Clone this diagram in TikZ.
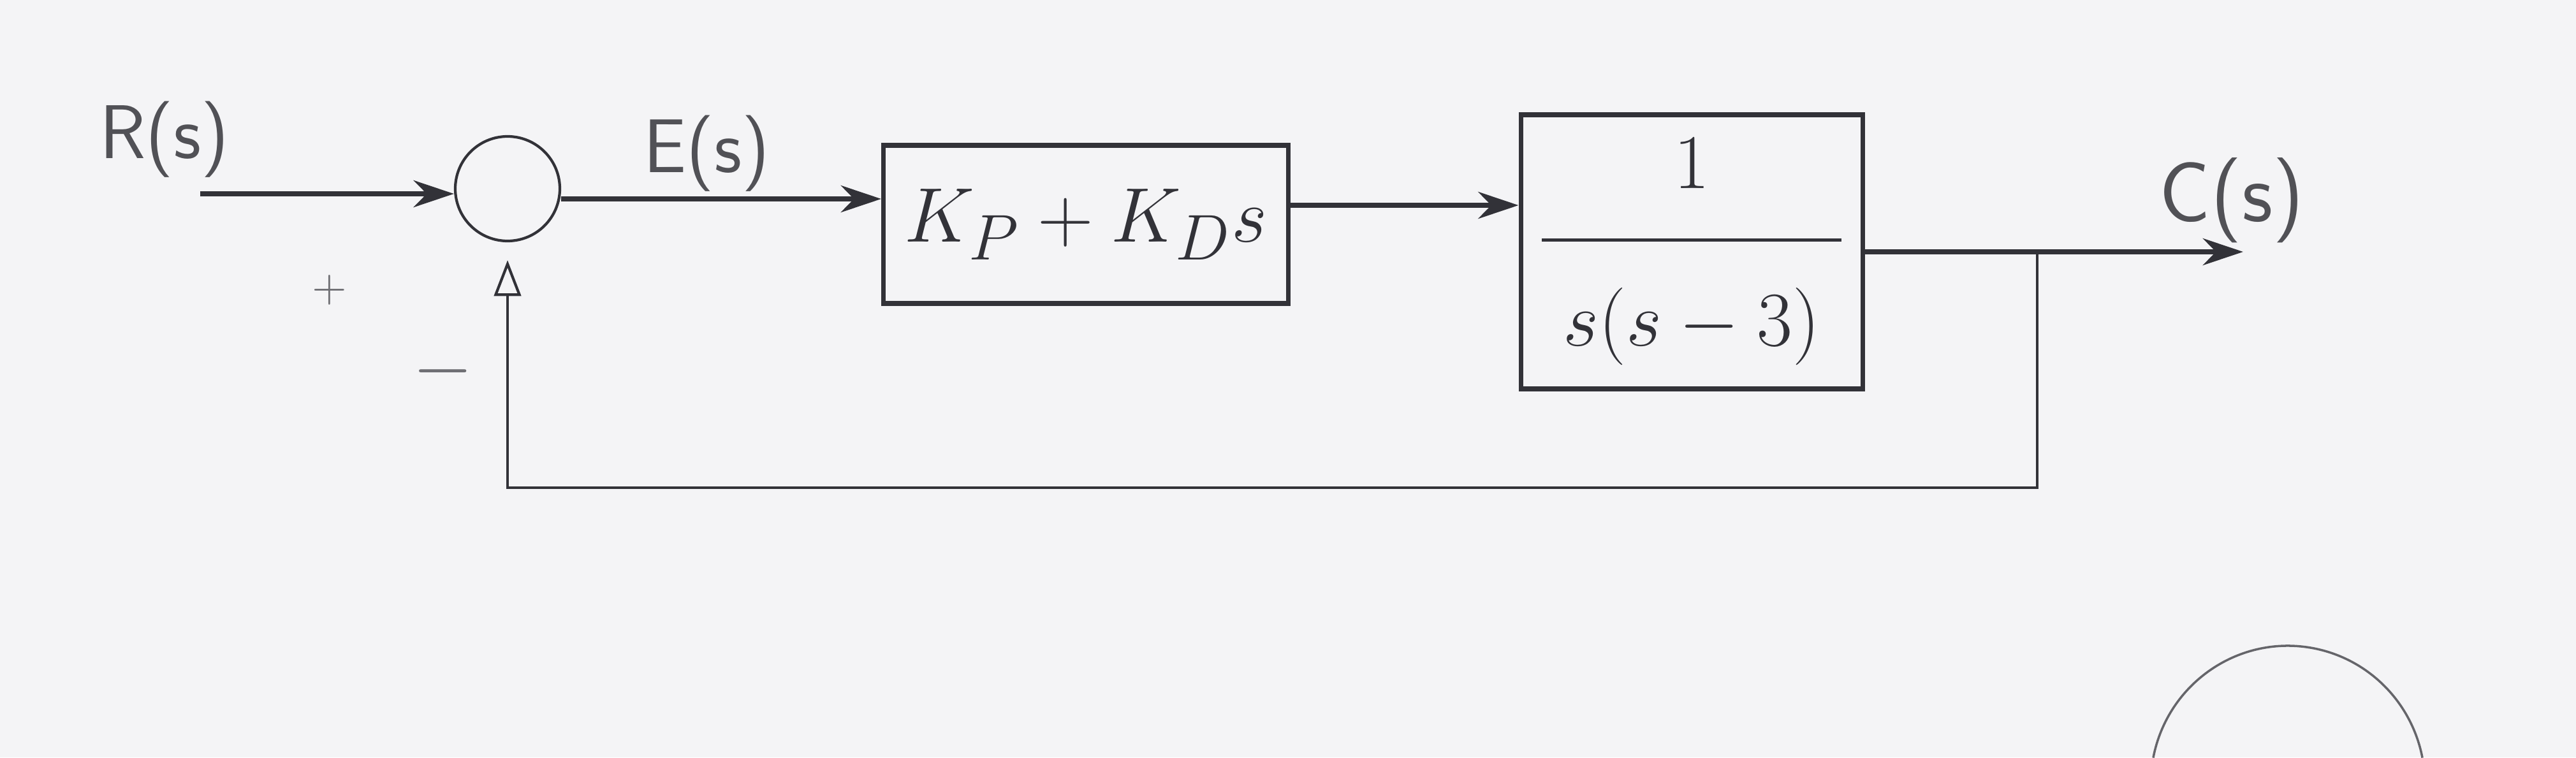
\documentclass[tikz,border=0pt]{standalone}
\usepackage{amsmath,amssymb}
\usepackage{tikz}
\usetikzlibrary{calc}
\usetikzlibrary{arrows.meta}
\definecolor{paper}{RGB}{244,244,246}
\definecolor{ink}{RGB}{50,50,56}
\newcommand{\sigfont}[1]{\sffamily\fontsize{#1}{#1}\selectfont}

\begin{document}
\begin{tikzpicture}[line width=1pt, draw=ink, text=ink,
        >={Stealth[length=9pt,width=6pt]},
        block/.style={draw, rectangle, inner sep=0pt},
        siglabel/.style={text=ink!85, font=\sigfont{17}}]
        \fill[paper] (0,0) rectangle (20.2,5.94);
        \useasboundingbox (0,0) rectangle (20.2,5.94);
    %blocks
        \node[draw, circle, minimum size=0.82cm, line width=0.6pt] (sum) at (3.98,4.46) {};
        \node[block, minimum width=3.175cm, minimum height=1.24cm, font=\fontsize{19}{22}\selectfont] (pd) at (8.515,4.18) {$K_P + K_D s$};
        \node[block, minimum width=2.68cm, minimum height=2.15cm, font=\fontsize{18}{22}\selectfont] (plant) at (13.265,3.965)
            {$\dfrac{1\rule[-9pt]{0pt}{0pt}}{\rule{0pt}{21pt}\;s(s-3)\;}$};
        \coordinate (rin) at (1.57,4.42);
        \coordinate (cout) at (17.59,3.965);
        \coordinate (tap) at (15.975,3.965);
        \coordinate (fb) at (15.975,2.115);
    %labels
        \node[siglabel] (rlab) at (1.29,4.845) {R(s)};
        \node[siglabel] (elab) at (5.54,4.735) {E(s)};
        \node[siglabel, font=\sigfont{19}] (clab) at (17.5,4.37) {C(s)};
        \node[text=ink!70, font=\fontsize{10}{10}\selectfont] (plus) at (2.585,3.665) {$+$};
        \node[text=ink!70, font=\fontsize{16}{16}\selectfont] (minus) at (3.475,3.03) {$-$};
    %signals
        \draw[->] (rin) -- (sum.west |- rin);
        \draw[->] ($(sum.east)+(0,-0.08)$) -- ($(pd.west |- sum.east)+(0,-0.08)$);
        \draw[->] ($(pd.east |- sum.east)+(0,-0.13)$) -- ($(plant.west |- sum.east)+(0,-0.13)$);
        \draw[->] (plant.east) -- (cout);
        \draw[-{Triangle[open,length=8pt,width=6pt]}, line width=0.6pt, shorten >=0.14cm] (tap) -- (fb) -| (sum.south);
    %circled mark
        \draw[line width=0.5pt, ink!75] ([shift={(169:1.075cm and 1.085cm)}]17.94,-0.21) arc[start angle=169, end angle=11, x radius=1.075cm, y radius=1.085cm];
        \end{tikzpicture}
\end{document}
